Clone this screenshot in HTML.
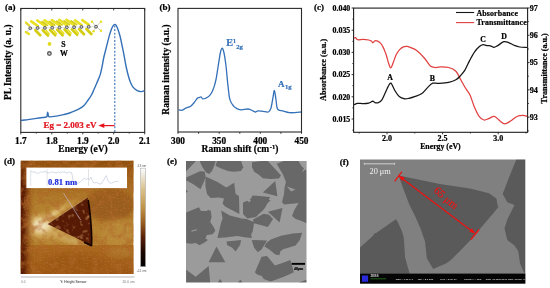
<!DOCTYPE html>
<html><head><meta charset="utf-8"><title>WS2 characterization</title>
<style>html,body{margin:0;padding:0;background:#fff;} svg{display:block;}</style>
</head><body>
<svg width="550" height="288" viewBox="0 0 550 288">
<rect width="550" height="288" fill="#ffffff"/>
<text x="5" y="9.8" font-family="Liberation Serif, serif" font-weight="bold" font-size="9" stroke="#000" stroke-width="0.22">(a)</text>
<rect x="20.8" y="8.45" width="123.89999999999999" height="123.95" fill="none" stroke="#2a2a2a" stroke-width="1.1"/>
<line x1="20.8" y1="8.45" x2="20.8" y2="10.45" stroke="#2a2a2a" stroke-width="0.9"/>
<line x1="20.8" y1="132.4" x2="20.8" y2="134.4" stroke="#2a2a2a" stroke-width="0.9"/>
<line x1="36.3" y1="8.45" x2="36.3" y2="9.649999999999999" stroke="#2a2a2a" stroke-width="0.9"/>
<line x1="36.3" y1="132.4" x2="36.3" y2="133.6" stroke="#2a2a2a" stroke-width="0.9"/>
<line x1="51.8" y1="8.45" x2="51.8" y2="10.45" stroke="#2a2a2a" stroke-width="0.9"/>
<line x1="51.8" y1="132.4" x2="51.8" y2="134.4" stroke="#2a2a2a" stroke-width="0.9"/>
<line x1="67.3" y1="8.45" x2="67.3" y2="9.649999999999999" stroke="#2a2a2a" stroke-width="0.9"/>
<line x1="67.3" y1="132.4" x2="67.3" y2="133.6" stroke="#2a2a2a" stroke-width="0.9"/>
<line x1="82.8" y1="8.45" x2="82.8" y2="10.45" stroke="#2a2a2a" stroke-width="0.9"/>
<line x1="82.8" y1="132.4" x2="82.8" y2="134.4" stroke="#2a2a2a" stroke-width="0.9"/>
<line x1="98.2" y1="8.45" x2="98.2" y2="9.649999999999999" stroke="#2a2a2a" stroke-width="0.9"/>
<line x1="98.2" y1="132.4" x2="98.2" y2="133.6" stroke="#2a2a2a" stroke-width="0.9"/>
<line x1="113.7" y1="8.45" x2="113.7" y2="10.45" stroke="#2a2a2a" stroke-width="0.9"/>
<line x1="113.7" y1="132.4" x2="113.7" y2="134.4" stroke="#2a2a2a" stroke-width="0.9"/>
<line x1="129.2" y1="8.45" x2="129.2" y2="9.649999999999999" stroke="#2a2a2a" stroke-width="0.9"/>
<line x1="129.2" y1="132.4" x2="129.2" y2="133.6" stroke="#2a2a2a" stroke-width="0.9"/>
<line x1="144.7" y1="8.45" x2="144.7" y2="10.45" stroke="#2a2a2a" stroke-width="0.9"/>
<line x1="144.7" y1="132.4" x2="144.7" y2="134.4" stroke="#2a2a2a" stroke-width="0.9"/>
<text x="20.8" y="143.6" font-family="Liberation Serif, serif" font-weight="bold" font-size="9.3" text-anchor="middle" stroke="#000" stroke-width="0.22">1.7</text>
<text x="51.8" y="143.6" font-family="Liberation Serif, serif" font-weight="bold" font-size="9.3" text-anchor="middle" stroke="#000" stroke-width="0.22">1.8</text>
<text x="82.8" y="143.6" font-family="Liberation Serif, serif" font-weight="bold" font-size="9.3" text-anchor="middle" stroke="#000" stroke-width="0.22">1.9</text>
<text x="113.7" y="143.6" font-family="Liberation Serif, serif" font-weight="bold" font-size="9.3" text-anchor="middle" stroke="#000" stroke-width="0.22">2.0</text>
<text x="144.7" y="143.6" font-family="Liberation Serif, serif" font-weight="bold" font-size="9.3" text-anchor="middle" stroke="#000" stroke-width="0.22">2.1</text>
<text x="83" y="152" font-family="Liberation Serif, serif" font-weight="bold" font-size="9.5" text-anchor="middle" stroke="#000" stroke-width="0.22">Energy (eV)</text>
<text transform="translate(10.9,62.2) rotate(-90)" font-family="Liberation Serif, serif" font-weight="bold" font-size="9.5" text-anchor="middle" stroke="#000" stroke-width="0.22">PL Intensity (a. u.)</text>
<path d="M20.9,120.5 C22.1,120.3 25.7,119.9 28.0,119.6 C30.3,119.3 32.3,118.9 34.5,118.6 C36.7,118.3 39.0,118.0 41.0,117.7 C43.0,117.4 45.6,117.4 46.6,116.8 C47.6,116.2 47.1,114.8 47.3,114.0 C47.5,113.2 47.6,112.2 47.7,112.3 C47.9,112.4 48.0,113.8 48.2,114.5 C48.4,115.2 47.7,116.5 49.1,116.8 C50.5,117.1 54.0,116.5 56.4,116.1 C58.8,115.7 61.2,115.2 63.6,114.6 C66.0,114.0 68.5,113.4 70.9,112.5 C73.3,111.6 76.0,110.6 78.2,109.4 C80.4,108.2 82.3,107.1 84.0,105.4 C85.7,103.8 87.2,101.2 88.5,99.5 C89.8,97.8 90.6,96.7 91.5,95.0 C92.4,93.3 93.1,91.5 94.0,89.5 C94.9,87.5 95.7,85.7 96.7,83.2 C97.8,80.7 99.4,77.4 100.3,74.4 C101.2,71.5 101.7,68.5 102.3,65.5 C102.9,62.5 103.3,59.5 104.0,56.5 C104.7,53.5 105.6,50.4 106.4,47.2 C107.2,44.1 108.0,40.5 108.8,37.6 C109.6,34.7 110.5,31.8 111.2,29.8 C111.9,27.8 112.6,26.5 113.2,25.6 C113.8,24.7 114.2,24.4 114.7,24.4 C115.2,24.4 115.7,24.6 116.2,25.4 C116.7,26.2 117.2,27.2 117.8,29.0 C118.4,30.8 119.2,33.0 120.0,36.0 C120.8,39.0 121.6,43.5 122.4,47.2 C123.2,50.9 124.0,55.0 124.6,58.3 C125.2,61.6 125.6,64.2 126.2,67.0 C126.8,69.8 127.5,72.8 128.2,75.3 C128.9,77.8 129.5,80.0 130.3,82.0 C131.1,84.0 131.8,85.7 133.0,87.1 C134.2,88.5 135.9,89.8 137.2,90.6 C138.5,91.3 139.6,91.5 140.7,91.6 C141.8,91.7 142.9,91.4 143.5,91.2 C144.1,91.0 144.2,90.4 144.4,90.2" fill="none" stroke="#3470b8" stroke-width="1.4" stroke-linejoin="round"/>
<line x1="114.8" y1="25.5" x2="114.8" y2="132" stroke="#3470b8" stroke-width="1.1" stroke-dasharray="2,1.6"/>
<line x1="103" y1="125.6" x2="114.6" y2="125.6" stroke="#e8141c" stroke-width="1.2"/>
<polygon points="98.3,125.6 104.3,123.2 104.3,128" fill="#e8141c"/>
<text x="43.4" y="128" font-family="Liberation Serif, serif" font-weight="bold" font-size="9" fill="#e0141c" stroke="#e0141c" stroke-width="0.22">Eg = 2.003 eV</text>
<g><line x1="25.9" y1="22.6" x2="29.1" y2="25.4" stroke="#e8e020" stroke-width="2.4" stroke-linecap="round"/><line x1="25.9" y1="32.0" x2="28.9" y2="34.0" stroke="#e8e020" stroke-width="2.4" stroke-linecap="round"/><line x1="26.1" y1="23.0" x2="30.3" y2="28.2" stroke="#b0b0a0" stroke-width="0.6"/><line x1="26.1" y1="32.4" x2="30.3" y2="28.2" stroke="#b0b0a0" stroke-width="0.6"/><line x1="31.2" y1="21.4" x2="37.8" y2="26.0" stroke="#e8e020" stroke-width="2.7" stroke-linecap="round"/><line x1="35.4" y1="30.2" x2="40.2" y2="35.2" stroke="#d4cc10" stroke-width="2.7" stroke-linecap="round"/><line x1="37.3" y1="20.5" x2="45.1" y2="25.9" stroke="#e8e020" stroke-width="2.7" stroke-linecap="round"/><line x1="42.7" y1="30.1" x2="48.0" y2="35.6" stroke="#d4cc10" stroke-width="2.7" stroke-linecap="round"/><line x1="42.1" y1="21.5" x2="47.5" y2="25.3" stroke="#d4cc10" stroke-width="1.6" stroke-linecap="round"/><line x1="45.9" y1="30.1" x2="49.3" y2="33.9" stroke="#e8e020" stroke-width="1.5" stroke-linecap="round"/><line x1="44.6" y1="20.3" x2="52.4" y2="25.7" stroke="#e8e020" stroke-width="2.7" stroke-linecap="round"/><line x1="50.0" y1="29.9" x2="55.3" y2="35.4" stroke="#d4cc10" stroke-width="2.7" stroke-linecap="round"/><line x1="49.4" y1="21.3" x2="54.8" y2="25.1" stroke="#d4cc10" stroke-width="1.6" stroke-linecap="round"/><line x1="53.2" y1="29.9" x2="56.6" y2="33.7" stroke="#e8e020" stroke-width="1.5" stroke-linecap="round"/><line x1="51.9" y1="20.1" x2="59.7" y2="25.5" stroke="#e8e020" stroke-width="2.7" stroke-linecap="round"/><line x1="57.3" y1="29.7" x2="62.6" y2="35.2" stroke="#d4cc10" stroke-width="2.7" stroke-linecap="round"/><line x1="56.7" y1="21.1" x2="62.1" y2="24.9" stroke="#d4cc10" stroke-width="1.6" stroke-linecap="round"/><line x1="60.5" y1="29.7" x2="63.9" y2="33.5" stroke="#e8e020" stroke-width="1.5" stroke-linecap="round"/><line x1="59.2" y1="19.9" x2="67.0" y2="25.3" stroke="#e8e020" stroke-width="2.7" stroke-linecap="round"/><line x1="64.6" y1="29.5" x2="69.9" y2="35.0" stroke="#d4cc10" stroke-width="2.7" stroke-linecap="round"/><line x1="64.0" y1="20.9" x2="69.4" y2="24.7" stroke="#d4cc10" stroke-width="1.6" stroke-linecap="round"/><line x1="67.8" y1="29.5" x2="71.2" y2="33.3" stroke="#e8e020" stroke-width="1.5" stroke-linecap="round"/><line x1="66.5" y1="19.8" x2="74.3" y2="25.2" stroke="#e8e020" stroke-width="2.7" stroke-linecap="round"/><line x1="71.9" y1="29.4" x2="77.2" y2="34.9" stroke="#d4cc10" stroke-width="2.7" stroke-linecap="round"/><line x1="71.3" y1="20.8" x2="76.7" y2="24.6" stroke="#d4cc10" stroke-width="1.6" stroke-linecap="round"/><line x1="75.1" y1="29.4" x2="78.5" y2="33.2" stroke="#e8e020" stroke-width="1.5" stroke-linecap="round"/><line x1="75.0" y1="20.4" x2="81.6" y2="25.0" stroke="#e8e020" stroke-width="2.7" stroke-linecap="round"/><line x1="79.2" y1="29.2" x2="84.0" y2="34.2" stroke="#d4cc10" stroke-width="2.7" stroke-linecap="round"/><line x1="82.3" y1="20.2" x2="88.9" y2="24.8" stroke="#e8e020" stroke-width="2.7" stroke-linecap="round"/><line x1="86.5" y1="29.0" x2="91.3" y2="34.0" stroke="#d4cc10" stroke-width="2.7" stroke-linecap="round"/><line x1="96.0" y1="26.7" x2="92.0" y2="21.7" stroke="#b8b890" stroke-width="0.7"/><circle cx="92.0" cy="21.7" r="1.25" fill="#e8e020"/><line x1="96.0" y1="26.7" x2="101.0" y2="21.7" stroke="#b8b890" stroke-width="0.7"/><circle cx="101.0" cy="21.7" r="1.25" fill="#e8e020"/><line x1="96.0" y1="26.7" x2="93.5" y2="31.2" stroke="#b8b890" stroke-width="0.7"/><circle cx="93.5" cy="31.2" r="1.25" fill="#e8e020"/><line x1="96.0" y1="26.7" x2="101.0" y2="30.7" stroke="#b8b890" stroke-width="0.7"/><circle cx="101.0" cy="30.7" r="1.25" fill="#e8e020"/><line x1="30.3" y1="28.2" x2="37.6" y2="28.0" stroke="#b8b8c0" stroke-width="0.6" opacity="0.7"/><line x1="37.6" y1="28.0" x2="44.9" y2="27.9" stroke="#b8b8c0" stroke-width="0.6" opacity="0.7"/><line x1="44.9" y1="27.9" x2="52.2" y2="27.7" stroke="#b8b8c0" stroke-width="0.6" opacity="0.7"/><line x1="52.2" y1="27.7" x2="59.5" y2="27.5" stroke="#b8b8c0" stroke-width="0.6" opacity="0.7"/><line x1="59.5" y1="27.5" x2="66.8" y2="27.3" stroke="#b8b8c0" stroke-width="0.6" opacity="0.7"/><line x1="66.8" y1="27.3" x2="74.1" y2="27.2" stroke="#b8b8c0" stroke-width="0.6" opacity="0.7"/><line x1="74.1" y1="27.2" x2="81.4" y2="27.0" stroke="#b8b8c0" stroke-width="0.6" opacity="0.7"/><line x1="81.4" y1="27.0" x2="88.7" y2="26.8" stroke="#b8b8c0" stroke-width="0.6" opacity="0.7"/><line x1="88.7" y1="26.8" x2="96.0" y2="26.7" stroke="#b8b8c0" stroke-width="0.6" opacity="0.7"/><circle cx="30.3" cy="28.2" r="1.45" fill="#c8c8cc" stroke="#505056" stroke-width="0.9"/><circle cx="37.6" cy="28.0" r="1.45" fill="#c8c8cc" stroke="#505056" stroke-width="0.9"/><circle cx="44.9" cy="27.9" r="1.45" fill="#c8c8cc" stroke="#505056" stroke-width="0.9"/><circle cx="52.2" cy="27.7" r="1.45" fill="#c8c8cc" stroke="#505056" stroke-width="0.9"/><circle cx="59.5" cy="27.5" r="1.45" fill="#c8c8cc" stroke="#505056" stroke-width="0.9"/><circle cx="66.8" cy="27.3" r="1.45" fill="#c8c8cc" stroke="#505056" stroke-width="0.9"/><circle cx="74.1" cy="27.2" r="1.45" fill="#c8c8cc" stroke="#505056" stroke-width="0.9"/><circle cx="81.4" cy="27.0" r="1.45" fill="#c8c8cc" stroke="#505056" stroke-width="0.9"/><circle cx="88.7" cy="26.8" r="1.45" fill="#c8c8cc" stroke="#505056" stroke-width="0.9"/><circle cx="96.0" cy="26.7" r="1.45" fill="#c8c8cc" stroke="#505056" stroke-width="0.9"/></g>
<circle cx="49.5" cy="43.9" r="1.9" fill="#e2da1c"/>
<circle cx="49.4" cy="53.5" r="1.8" fill="#d8d8d8" stroke="#5e5e5e" stroke-width="1.35"/>
<text x="61.2" y="46.6" font-family="Liberation Serif, serif" font-weight="bold" font-size="7.8" stroke="#000" stroke-width="0.22">S</text>
<text x="60" y="56.2" font-family="Liberation Serif, serif" font-weight="bold" font-size="7.8" stroke="#000" stroke-width="0.22">W</text>
<text x="159.6" y="9.8" font-family="Liberation Serif, serif" font-weight="bold" font-size="9" stroke="#000" stroke-width="0.22">(b)</text>
<rect x="178.0" y="8.4" width="123.5" height="123.6" fill="none" stroke="#2a2a2a" stroke-width="1.1"/>
<line x1="178.0" y1="132.0" x2="178.0" y2="133.8" stroke="#2a2a2a" stroke-width="0.9"/>
<line x1="198.6" y1="132.0" x2="198.6" y2="133.8" stroke="#2a2a2a" stroke-width="0.9"/>
<line x1="219.2" y1="132.0" x2="219.2" y2="133.8" stroke="#2a2a2a" stroke-width="0.9"/>
<line x1="239.8" y1="132.0" x2="239.8" y2="133.8" stroke="#2a2a2a" stroke-width="0.9"/>
<line x1="260.3" y1="132.0" x2="260.3" y2="133.8" stroke="#2a2a2a" stroke-width="0.9"/>
<line x1="280.9" y1="132.0" x2="280.9" y2="133.8" stroke="#2a2a2a" stroke-width="0.9"/>
<line x1="301.5" y1="132.0" x2="301.5" y2="133.8" stroke="#2a2a2a" stroke-width="0.9"/>
<text x="178.0" y="143.6" font-family="Liberation Serif, serif" font-weight="bold" font-size="9.3" text-anchor="middle" stroke="#000" stroke-width="0.22">300</text>
<text x="219.2" y="143.6" font-family="Liberation Serif, serif" font-weight="bold" font-size="9.3" text-anchor="middle" stroke="#000" stroke-width="0.22">350</text>
<text x="260.3" y="143.6" font-family="Liberation Serif, serif" font-weight="bold" font-size="9.3" text-anchor="middle" stroke="#000" stroke-width="0.22">400</text>
<text x="301.5" y="143.6" font-family="Liberation Serif, serif" font-weight="bold" font-size="9.3" text-anchor="middle" stroke="#000" stroke-width="0.22">450</text>
<text x="240" y="152.3" font-family="Liberation Serif, serif" font-weight="bold" font-size="9.5" text-anchor="middle" stroke="#000" stroke-width="0.22">Raman shift (cm<tspan dx="0.6" dy="-3.8" font-size="6.5">-1</tspan><tspan dy="3.8">)</tspan></text>
<text transform="translate(168.9,69.5) rotate(-90)" font-family="Liberation Serif, serif" font-weight="bold" font-size="9.5" text-anchor="middle" stroke="#000" stroke-width="0.22">Raman intensity (a.u.)</text>
<path d="M178.4,109.8 C179.0,109.9 180.9,110.5 182.1,110.2 C183.3,109.9 184.3,108.9 185.7,108.2 C187.1,107.5 189.2,107.2 190.6,106.2 C192.0,105.2 193.1,103.8 194.2,102.5 C195.3,101.2 196.5,99.0 197.3,98.2 C198.1,97.4 198.5,97.8 199.1,97.6 C199.7,97.4 200.4,96.6 201.0,96.8 C201.6,97.0 202.0,98.7 202.8,98.9 C203.6,99.1 204.8,98.6 205.8,98.2 C206.8,97.8 207.8,97.4 208.8,96.4 C209.8,95.4 211.0,93.9 211.9,92.2 C212.8,90.5 213.6,88.3 214.3,86.1 C215.0,83.9 215.4,82.3 216.1,79.0 C216.8,75.7 217.5,70.3 218.2,66.0 C218.9,61.7 219.7,56.0 220.3,53.0 C220.9,50.0 221.4,48.5 222.0,48.3 C222.6,48.1 223.1,49.0 223.8,52.0 C224.5,55.0 225.3,60.2 226.0,66.0 C226.7,71.8 227.4,81.2 228.1,86.9 C228.8,92.6 229.0,96.7 230.0,99.9 C231.0,103.2 232.7,104.9 233.9,106.4 C235.2,107.9 236.2,108.2 237.5,108.8 C238.8,109.4 239.9,109.8 241.7,109.8 C243.5,109.8 246.3,108.8 248.2,109.0 C250.0,109.2 251.6,110.3 252.8,110.8 C254.0,111.3 254.5,112.0 255.4,112.0 C256.3,112.0 256.7,110.9 258.0,110.8 C259.3,110.7 261.3,111.1 263.0,111.3 C264.7,111.5 267.1,112.5 268.4,112.0 C269.7,111.5 270.2,110.3 271.0,108.0 C271.8,105.7 272.3,100.9 272.9,98.0 C273.5,95.1 273.9,90.3 274.4,90.5 C274.9,90.7 275.4,95.9 275.9,99.0 C276.4,102.1 276.5,107.2 277.6,109.2 C278.8,111.2 280.9,110.2 282.8,110.8 C284.8,111.4 287.3,112.3 289.3,112.6 C291.3,112.9 293.1,112.7 295.0,112.6 C296.9,112.5 300.0,112.1 301.0,112.0" fill="none" stroke="#3470b8" stroke-width="1.3" stroke-linejoin="round"/>
<text x="226.2" y="46.4" font-family="Liberation Serif, serif" font-weight="bold" font-size="10.2" fill="#3470b8" stroke="#3470b8" stroke-width="0.22">E</text>
<text x="233" y="42.8" font-family="Liberation Serif, serif" font-weight="bold" font-size="6" fill="#3470b8" stroke="#3470b8" stroke-width="0.22">1</text>
<text x="236.2" y="49" font-family="Liberation Serif, serif" font-weight="bold" font-size="6.6" fill="#3470b8" stroke="#3470b8" stroke-width="0.22">2g</text>
<text x="277.9" y="86.8" font-family="Liberation Serif, serif" font-weight="bold" font-size="9" fill="#3470b8" stroke="#3470b8" stroke-width="0.22">A</text>
<text x="285.0" y="89.4" font-family="Liberation Serif, serif" font-weight="bold" font-size="6.6" fill="#3470b8" stroke="#3470b8" stroke-width="0.22">1g</text>
<text x="314" y="9.9" font-family="Liberation Serif, serif" font-weight="bold" font-size="9" stroke="#000" stroke-width="0.22">(c)</text>
<rect x="353.6" y="8.1" width="174.0" height="124.20000000000002" fill="none" stroke="#1e1e1e" stroke-width="1.1"/>
<line x1="351.6" y1="8.0" x2="353.6" y2="8.0" stroke="#1e1e1e" stroke-width="0.9"/>
<line x1="352.40000000000003" y1="19.1" x2="353.6" y2="19.1" stroke="#1e1e1e" stroke-width="0.9"/>
<line x1="351.6" y1="30.2" x2="353.6" y2="30.2" stroke="#1e1e1e" stroke-width="0.9"/>
<line x1="352.40000000000003" y1="41.3" x2="353.6" y2="41.3" stroke="#1e1e1e" stroke-width="0.9"/>
<line x1="351.6" y1="52.4" x2="353.6" y2="52.4" stroke="#1e1e1e" stroke-width="0.9"/>
<line x1="352.40000000000003" y1="63.5" x2="353.6" y2="63.5" stroke="#1e1e1e" stroke-width="0.9"/>
<line x1="351.6" y1="74.6" x2="353.6" y2="74.6" stroke="#1e1e1e" stroke-width="0.9"/>
<line x1="352.40000000000003" y1="85.7" x2="353.6" y2="85.7" stroke="#1e1e1e" stroke-width="0.9"/>
<line x1="351.6" y1="96.8" x2="353.6" y2="96.8" stroke="#1e1e1e" stroke-width="0.9"/>
<line x1="352.40000000000003" y1="107.9" x2="353.6" y2="107.9" stroke="#1e1e1e" stroke-width="0.9"/>
<line x1="351.6" y1="119.0" x2="353.6" y2="119.0" stroke="#1e1e1e" stroke-width="0.9"/>
<line x1="352.40000000000003" y1="130.1" x2="353.6" y2="130.1" stroke="#1e1e1e" stroke-width="0.9"/>
<text x="350.3" y="10.8" font-family="Liberation Serif, serif" font-weight="bold" font-size="7.9" text-anchor="end" stroke="#000" stroke-width="0.22">0.040</text>
<text x="350.3" y="33.0" font-family="Liberation Serif, serif" font-weight="bold" font-size="7.9" text-anchor="end" stroke="#000" stroke-width="0.22">0.035</text>
<text x="350.3" y="55.2" font-family="Liberation Serif, serif" font-weight="bold" font-size="7.9" text-anchor="end" stroke="#000" stroke-width="0.22">0.030</text>
<text x="350.3" y="77.4" font-family="Liberation Serif, serif" font-weight="bold" font-size="7.9" text-anchor="end" stroke="#000" stroke-width="0.22">0.025</text>
<text x="350.3" y="99.6" font-family="Liberation Serif, serif" font-weight="bold" font-size="7.9" text-anchor="end" stroke="#000" stroke-width="0.22">0.020</text>
<text x="350.3" y="121.8" font-family="Liberation Serif, serif" font-weight="bold" font-size="7.9" text-anchor="end" stroke="#000" stroke-width="0.22">0.015</text>
<line x1="527.6" y1="8.0" x2="529.6" y2="8.0" stroke="#1e1e1e" stroke-width="0.9"/>
<line x1="527.6" y1="21.6" x2="528.8000000000001" y2="21.6" stroke="#1e1e1e" stroke-width="0.9"/>
<line x1="527.6" y1="35.3" x2="529.6" y2="35.3" stroke="#1e1e1e" stroke-width="0.9"/>
<line x1="527.6" y1="49.0" x2="528.8000000000001" y2="49.0" stroke="#1e1e1e" stroke-width="0.9"/>
<line x1="527.6" y1="62.6" x2="529.6" y2="62.6" stroke="#1e1e1e" stroke-width="0.9"/>
<line x1="527.6" y1="76.2" x2="528.8000000000001" y2="76.2" stroke="#1e1e1e" stroke-width="0.9"/>
<line x1="527.6" y1="89.9" x2="529.6" y2="89.9" stroke="#1e1e1e" stroke-width="0.9"/>
<line x1="527.6" y1="103.5" x2="528.8000000000001" y2="103.5" stroke="#1e1e1e" stroke-width="0.9"/>
<line x1="527.6" y1="117.2" x2="529.6" y2="117.2" stroke="#1e1e1e" stroke-width="0.9"/>
<line x1="527.6" y1="130.9" x2="528.8000000000001" y2="130.9" stroke="#1e1e1e" stroke-width="0.9"/>
<text x="529.8" y="10.8" font-family="Liberation Serif, serif" font-weight="bold" font-size="8.1" stroke="#000" stroke-width="0.22">97</text>
<text x="529.8" y="38.1" font-family="Liberation Serif, serif" font-weight="bold" font-size="8.1" stroke="#000" stroke-width="0.22">96</text>
<text x="529.8" y="65.4" font-family="Liberation Serif, serif" font-weight="bold" font-size="8.1" stroke="#000" stroke-width="0.22">95</text>
<text x="529.8" y="92.7" font-family="Liberation Serif, serif" font-weight="bold" font-size="8.1" stroke="#000" stroke-width="0.22">94</text>
<text x="529.8" y="120.0" font-family="Liberation Serif, serif" font-weight="bold" font-size="8.1" stroke="#000" stroke-width="0.22">93</text>
<line x1="359.2" y1="132.3" x2="359.2" y2="133.5" stroke="#1e1e1e" stroke-width="0.9"/>
<line x1="387.0" y1="132.3" x2="387.0" y2="134.3" stroke="#1e1e1e" stroke-width="0.9"/>
<line x1="414.8" y1="132.3" x2="414.8" y2="133.5" stroke="#1e1e1e" stroke-width="0.9"/>
<line x1="442.6" y1="132.3" x2="442.6" y2="134.3" stroke="#1e1e1e" stroke-width="0.9"/>
<line x1="470.4" y1="132.3" x2="470.4" y2="133.5" stroke="#1e1e1e" stroke-width="0.9"/>
<line x1="498.2" y1="132.3" x2="498.2" y2="134.3" stroke="#1e1e1e" stroke-width="0.9"/>
<line x1="526.0" y1="132.3" x2="526.0" y2="133.5" stroke="#1e1e1e" stroke-width="0.9"/>
<text x="387.0" y="141.3" font-family="Liberation Serif, serif" font-weight="bold" font-size="8" text-anchor="middle" stroke="#000" stroke-width="0.22">2.0</text>
<text x="442.6" y="141.3" font-family="Liberation Serif, serif" font-weight="bold" font-size="8" text-anchor="middle" stroke="#000" stroke-width="0.22">2.5</text>
<text x="498.2" y="141.3" font-family="Liberation Serif, serif" font-weight="bold" font-size="8" text-anchor="middle" stroke="#000" stroke-width="0.22">3.0</text>
<text x="440.4" y="149.3" font-family="Liberation Serif, serif" font-weight="bold" font-size="7.8" text-anchor="middle" stroke="#000" stroke-width="0.22">Energy (eV)</text>
<text transform="translate(326.4,69.9) rotate(-90)" font-family="Liberation Serif, serif" font-weight="bold" font-size="8.2" text-anchor="middle" stroke="#000" stroke-width="0.22">Absorbance (a.u.)</text>
<text transform="translate(546.8,68.3) rotate(-90)" font-family="Liberation Serif, serif" font-weight="bold" font-size="8.1" text-anchor="middle" stroke="#000" stroke-width="0.22">Transmittance (a.u.)</text>
<path d="M354.1,38.1 C354.3,38.0 354.9,37.3 355.5,37.6 C356.1,37.9 356.3,39.4 357.6,39.7 C358.9,40.0 361.2,39.4 363.1,39.4 C365.0,39.4 367.3,39.7 368.7,40.0 C370.1,40.3 370.7,40.6 371.4,41.1 C372.1,41.6 372.2,42.8 372.8,42.8 C373.4,42.8 374.1,41.1 374.9,40.8 C375.7,40.5 376.8,40.7 377.7,41.1 C378.6,41.5 379.6,42.2 380.5,43.2 C381.4,44.2 382.3,45.5 383.2,47.4 C384.2,49.2 385.1,51.8 386.0,54.3 C386.9,56.8 387.7,60.4 388.4,62.6 C389.1,64.8 389.7,66.8 390.2,67.5 C390.7,68.2 391.0,67.8 391.6,66.8 C392.2,65.8 392.9,63.3 393.7,61.2 C394.5,59.2 395.4,56.3 396.4,54.3 C397.4,52.3 398.7,50.6 399.9,49.4 C401.1,48.2 402.2,47.4 403.4,46.9 C404.6,46.4 405.9,46.3 406.9,46.4 C407.9,46.5 407.9,46.5 409.6,47.2 C411.3,47.9 414.6,48.9 417.0,50.7 C419.4,52.5 422.1,55.5 424.3,58.0 C426.5,60.5 428.6,64.4 430.4,66.0 C432.2,67.6 433.8,67.3 435.2,67.5 C436.6,67.7 436.7,67.0 438.9,67.0 C441.1,67.0 445.8,66.8 448.6,67.5 C451.4,68.2 453.9,69.2 455.9,71.3 C457.9,73.3 459.2,77.0 460.8,79.8 C462.4,82.6 464.1,85.8 465.6,88.3 C467.1,90.8 468.6,91.9 470.0,95.0 C471.4,98.1 472.8,103.2 474.3,106.7 C475.8,110.2 477.5,114.1 479.1,116.3 C480.7,118.5 482.3,119.6 483.9,120.0 C485.5,120.4 486.9,119.3 488.6,118.7 C490.4,118.1 492.5,115.9 494.4,116.3 C496.3,116.7 498.3,119.7 500.0,121.0 C501.7,122.3 503.0,123.9 504.8,123.9 C506.6,123.9 508.5,122.3 510.6,121.0 C512.7,119.7 515.2,117.2 517.3,116.3 C519.4,115.3 521.4,115.3 523.0,115.3 C524.6,115.3 526.5,116.1 527.2,116.3" fill="none" stroke="#e0403f" stroke-width="1.25" stroke-linejoin="round"/>
<path d="M354.1,104.7 C354.7,104.5 356.1,103.5 357.6,103.3 C359.1,103.1 361.2,103.6 363.1,103.6 C365.0,103.6 367.1,103.5 368.7,103.1 C370.3,102.7 371.8,101.3 372.8,101.2 C373.8,101.2 374.0,102.4 374.9,102.6 C375.8,102.8 377.2,103.0 378.4,102.6 C379.6,102.1 380.9,101.3 381.9,99.9 C382.9,98.5 383.7,96.3 384.6,94.3 C385.5,92.3 386.6,89.7 387.4,88.0 C388.2,86.3 388.9,84.8 389.5,84.0 C390.1,83.2 390.4,83.0 390.9,83.2 C391.4,83.4 391.6,84.0 392.3,85.3 C393.0,86.6 393.9,88.9 395.0,90.8 C396.1,92.7 397.6,95.1 399.2,96.4 C400.8,97.7 403.2,98.4 404.8,98.8 C406.4,99.1 407.3,98.7 408.9,98.3 C410.5,97.9 412.4,97.4 414.6,96.6 C416.8,95.8 419.7,95.1 421.9,93.5 C424.1,91.9 426.2,88.8 428.0,87.1 C429.8,85.4 431.0,83.8 432.8,83.2 C434.6,82.6 436.3,83.6 438.9,83.4 C441.5,83.2 445.8,82.9 448.6,82.3 C451.4,81.7 454.0,80.8 455.9,79.8 C457.8,78.8 458.5,77.8 460.0,76.2 C461.5,74.6 463.3,72.7 464.9,70.1 C466.5,67.5 468.1,63.4 469.7,60.4 C471.3,57.4 473.0,54.2 474.6,51.9 C476.2,49.6 478.0,47.7 479.4,46.5 C480.8,45.3 481.9,44.8 483.1,44.6 C484.3,44.5 485.5,45.4 486.7,45.6 C487.9,45.8 489.2,45.5 490.4,45.8 C491.6,46.1 492.8,47.3 494.0,47.3 C495.2,47.3 496.1,46.5 497.7,45.6 C499.3,44.7 502.0,42.2 503.8,41.7 C505.6,41.2 507.0,42.1 508.6,42.6 C510.2,43.1 511.7,44.3 513.5,45.0 C515.3,45.7 517.3,46.6 519.6,47.0 C521.9,47.4 525.9,47.4 527.2,47.5" fill="none" stroke="#151515" stroke-width="1.25" stroke-linejoin="round"/>
<line x1="456" y1="12.5" x2="474.2" y2="12.5" stroke="#151515" stroke-width="1.1"/>
<line x1="456" y1="22.6" x2="474.2" y2="22.6" stroke="#e0403f" stroke-width="1.1"/>
<text x="476.5" y="15.6" font-family="Liberation Serif, serif" font-weight="bold" font-size="7.9" letter-spacing="0.12" stroke="#000" stroke-width="0.22">Absorbance</text>
<text x="476.5" y="25.2" font-family="Liberation Serif, serif" font-weight="bold" font-size="7.9" letter-spacing="0.1" stroke="#000" stroke-width="0.22">Transmittance</text>
<text x="387.3" y="79.8" font-family="Liberation Serif, serif" font-weight="bold" font-size="7.8" stroke="#000" stroke-width="0.22">A</text>
<text x="429.7" y="81" font-family="Liberation Serif, serif" font-weight="bold" font-size="7.8" stroke="#000" stroke-width="0.22">B</text>
<text x="480.2" y="41.6" font-family="Liberation Serif, serif" font-weight="bold" font-size="7.8" stroke="#000" stroke-width="0.22">C</text>
<text x="501.3" y="38.6" font-family="Liberation Serif, serif" font-weight="bold" font-size="7.8" stroke="#000" stroke-width="0.22">D</text>
<text x="3.9" y="163.6" font-family="Liberation Serif, serif" font-weight="bold" font-size="9" stroke="#000" stroke-width="0.22">(d)</text>
<defs>
<linearGradient id="dleft" x1="0" y1="0" x2="1" y2="0">
 <stop offset="0" stop-color="#460e00" stop-opacity="1"/>
 <stop offset="0.3" stop-color="#622004" stop-opacity="0.95"/>
 <stop offset="0.6" stop-color="#8a4410" stop-opacity="0.6"/>
 <stop offset="1" stop-color="#b07a26" stop-opacity="0"/>
</linearGradient>
<radialGradient id="dglow" cx="0.5" cy="0.5" r="0.5">
 <stop offset="0" stop-color="#f6ecc4" stop-opacity="1"/>
 <stop offset="0.45" stop-color="#e6cc88" stop-opacity="0.75"/>
 <stop offset="1" stop-color="#d0a454" stop-opacity="0"/>
</radialGradient>
<radialGradient id="dglow2" cx="0.5" cy="0.5" r="0.5">
 <stop offset="0" stop-color="#d8b464" stop-opacity="0.8"/>
 <stop offset="1" stop-color="#c89a48" stop-opacity="0"/>
</radialGradient>
<linearGradient id="dtop" x1="0" y1="0" x2="0" y2="1">
 <stop offset="0" stop-color="#8e4c0c" stop-opacity="1"/>
 <stop offset="0.3" stop-color="#985410" stop-opacity="0.85"/>
 <stop offset="0.65" stop-color="#9c5a14" stop-opacity="0.45"/>
 <stop offset="1" stop-color="#9c5a14" stop-opacity="0"/>
</linearGradient>
<linearGradient id="dlow" x1="0" y1="0" x2="0" y2="1">
 <stop offset="0" stop-color="#a9671c"/>
 <stop offset="1" stop-color="#9c5614"/>
</linearGradient>
<linearGradient id="cbar" x1="0" y1="0" x2="0" y2="1">
 <stop offset="0" stop-color="#ffffff"/><stop offset="0.05" stop-color="#f2eee6"/><stop offset="0.22" stop-color="#d8c08a"/>
 <stop offset="0.4" stop-color="#c09448"/><stop offset="0.55" stop-color="#9a5e20"/><stop offset="0.7" stop-color="#5a2008"/>
 <stop offset="0.86" stop-color="#1a0600"/><stop offset="1" stop-color="#000000"/>
</linearGradient>
<filter id="noise" x="0" y="0" width="100%" height="100%">
 <feTurbulence type="fractalNoise" baseFrequency="0.13" numOctaves="3" seed="7"/>
 <feColorMatrix values="0 0 0 0 0.42  0 0 0 0 0.13  0 0 0 0 0.02  3.2 0 0 0 -1.35"/>
</filter>
<filter id="noise2" x="0" y="0" width="100%" height="100%">
 <feTurbulence type="fractalNoise" baseFrequency="0.7" numOctaves="1" seed="11"/>
 <feColorMatrix values="0 0 0 0 0.86  0 0 0 0 0.66  0 0 0 0 0.30  3.0 0 0 0 -1.45"/>
</filter>
<filter id="mottle" x="0" y="0" width="100%" height="100%">
 <feTurbulence type="fractalNoise" baseFrequency="0.2" numOctaves="2" seed="5"/>
 <feColorMatrix values="0 0 0 0 0.52  0 0 0 0 0.24  0 0 0 0 0.08  0 0 0 2.6 -1.42"/>
 <feGaussianBlur stdDeviation="0.4"/>
</filter>
<linearGradient id="lmaskg" x1="0" y1="0" x2="0" y2="1">
 <stop offset="0" stop-color="#fff" stop-opacity="0.35"/><stop offset="0.25" stop-color="#fff" stop-opacity="1"/><stop offset="1" stop-color="#fff" stop-opacity="0.85"/>
</linearGradient>
<mask id="lmask" maskUnits="userSpaceOnUse" x="20" y="160" width="20" height="115"><rect x="20" y="160" width="20" height="115" fill="url(#lmaskg)"/></mask>
<filter id="blur06"><feGaussianBlur stdDeviation="0.6"/></filter>
<filter id="blur2"><feGaussianBlur stdDeviation="2"/></filter>
</defs>
<clipPath id="dclip"><rect x="20.6" y="160.6" width="113.0" height="113.4"/></clipPath>
<g clip-path="url(#dclip)">
<rect x="20.6" y="160.6" width="113.0" height="113.4" fill="#b3812e"/>
<ellipse cx="110" cy="205" rx="25" ry="17" fill="#8e4e12" opacity="0.7" filter="url(#blur2)"/>
<ellipse cx="0" cy="0" rx="20" ry="5" transform="translate(66,237) rotate(27)" fill="#dcc07c" opacity="0.55" filter="url(#blur2)"/>
<ellipse cx="118" cy="232" rx="18" ry="14" fill="#c09040" opacity="0.5" filter="url(#blur2)"/>
<ellipse cx="0" cy="0" rx="26" ry="8" transform="translate(60,210) rotate(-33)" fill="url(#dglow2)"/>
<ellipse cx="39" cy="226" rx="20" ry="16" fill="url(#dglow)"/>
<ellipse cx="42" cy="226" rx="9" ry="7" fill="#f8f0d8" opacity="0.55" filter="url(#blur2)"/>
<ellipse cx="0" cy="0" rx="16" ry="5" transform="translate(52,215) rotate(-33)" fill="url(#dglow)" opacity="0.6"/>
<ellipse cx="52" cy="236" rx="22" ry="10" fill="url(#dglow2)" opacity="0.7"/>
<rect x="20.6" y="245" width="113.0" height="29.0" fill="url(#dlow)"/>
<ellipse cx="75" cy="262" rx="30" ry="9" fill="#94500f" opacity="0.45" filter="url(#blur2)"/>
<ellipse cx="120" cy="252" rx="14" ry="6" fill="#b88838" opacity="0.5" filter="url(#blur2)"/>
<rect x="20.6" y="160.6" width="113.0" height="46" fill="url(#dtop)"/>
<rect x="20.6" y="160.6" width="15" height="113.4" fill="url(#dleft)" mask="url(#lmask)"/>
<rect x="20.6" y="180" width="4" height="94.0" fill="#5a1a02" opacity="0.55"/>
<rect x="20.6" y="160.6" width="113.0" height="113.4" filter="url(#noise)" opacity="0.6"/>
<rect x="20.6" y="160.6" width="113.0" height="113.4" filter="url(#noise2)" opacity="0.15"/>
<polygon points="87.6,197.3 89.3,207 90.5,218 91.3,229 91.7,238 91.5,245.6 47.6,224" fill="#561a05"/>
<clipPath id="triclip"><polygon points="87.6,197.3 89.3,207 90.5,218 91.3,229 91.7,238 91.5,245.6 47.6,224"/></clipPath>
<rect x="45" y="195" width="50" height="52" clip-path="url(#triclip)" filter="url(#mottle)"/>
<polyline points="88.1,200 89.4,208 90.5,218 91.3,229 91.7,238 91.5,245.6 84,242.3" fill="none" stroke="#160400" stroke-width="1.7" stroke-linejoin="round"/>
<line x1="47.6" y1="224" x2="87.6" y2="197.3" stroke="#f0d8a0" stroke-width="0.6" opacity="0.6"/>
<line x1="63.5" y1="193.2" x2="80.7" y2="220" stroke="#c8c0e0" stroke-width="0.7" opacity="0.85"/>
</g>
<rect x="26.4" y="167.6" width="100.6" height="20.5" fill="#ffffff"/>
<path d="M30.7,170 v16 M47.1,169 v17 M88.5,169 v17" stroke="#c8c8c8" stroke-width="0.5" fill="none"/>
<polyline points="30.8,171.8 31.9,171.6 33.0,172.1 34.1,172.3 35.2,172.1 36.3,172.7 37.4,173.7 38.5,172.8 39.6,172.8 40.7,171.8 41.8,172.4 42.9,171.9 44.0,171.7 45.1,171.6 46.2,171.8 47.3,173.1 48.4,172.9 49.5,172.9 50.6,172.8 51.7,171.7 52.8,172.0 53.9,172.5 55.0,172.7 56.1,172.9 57.2,173.0 58.3,171.6 59.4,172.5 60.5,172.6 61.6,172.3 62.7,171.7 63.8,172.3 64.9,171.6 66.0,173.1 67.1,173.0 68.2,172.4 69.3,171.9 70.4,173.0 71.5,172.4 72.4,176.0 73.1,181.5 74.5,183.2 76.0,182.6 77.5,183.4 79.0,182.8 80.5,181.6 81.8,180.8 83.0,179.2 84.5,178.3 86.0,179.6 87.5,178.6 89.5,179.6 91.0,177.2 92.2,180.5 93.4,182.5 95.0,183.0 96.5,182.4 98.0,183.3 99.5,183.8 101.0,184.1 102.5,182.0 104.0,179.5 105.2,177.0 106.3,175.6 107.3,178.5 108.4,181.6 110.0,182.8 111.5,183.2 113.0,182.4 115.0,181.8 116.8,181.2 118.4,181.6" fill="none" stroke="#b4bcd6" stroke-width="0.55"/>
<text x="48" y="185.2" font-family="Liberation Serif, serif" font-weight="bold" font-size="8.6" fill="#2233dd" stroke="#2233dd" stroke-width="0.22">0.81 nm</text>
<rect x="140.6" y="168.2" width="5" height="98.5" fill="url(#cbar)" stroke="#b0b0b0" stroke-width="0.6"/>
<text x="137.5" y="167" font-family="Liberation Sans, sans-serif" font-size="2.8" fill="#555">4.3 nm</text>
<text x="136.8" y="272.3" font-family="Liberation Sans, sans-serif" font-size="2.8" fill="#555">-0.1 nm</text>
<line x1="20.9" y1="277" x2="134.4" y2="277" stroke="#888" stroke-width="0.6"/>
<text x="21" y="282.7" font-family="Liberation Sans, sans-serif" font-size="3.2" fill="#777">0.0</text>
<text x="73.5" y="282.7" font-family="Liberation Sans, sans-serif" font-size="3.3" font-weight="bold" fill="#555" text-anchor="middle">Y: Height Sensor</text>
<text x="134.4" y="282.7" font-family="Liberation Sans, sans-serif" font-size="3.3" fill="#777" text-anchor="end">20.0 um</text>
<text x="167" y="164.2" font-family="Liberation Serif, serif" font-weight="bold" font-size="9" stroke="#000" stroke-width="0.22">(e)</text>
<clipPath id="eclip"><rect x="186.0" y="161.0" width="120.5" height="121.5"/></clipPath>
<rect x="186.0" y="161.0" width="120.5" height="121.5" fill="#9b9b9b"/>
<g clip-path="url(#eclip)" fill="#686868"><polygon points="186.0,161.0 196.0,161.0 186.0,171.5"/><polygon points="199.6,161.0 215.6,161.0 214.2,165.8 212.0,170.9 209.1,173.9 206.1,172.4 202.5,167.3"/><polygon points="217.1,161.0 241.0,161.0 243.2,167.3 241.0,170.9 233.7,171.7 227.9,170.9 220.0,168.0 215.6,165.8"/><polygon points="186.3,177.5 200.0,171.2 204.7,171.4 205.6,177.2 203.6,182.6 200.5,189.2 193.0,184.0 186.3,180.5"/><polygon points="205.4,176.5 210.0,178.6 217.5,182.0 226.3,187.6 234.2,182.8 235.6,193.9 239.0,196.0 239.4,214.0 225.5,206.8 222.6,203.8 224.0,198.5 218.9,197.4 210.6,198.0 207.0,193.9 205.4,186.0"/><polygon points="186.0,189.9 187.9,191.4 186.0,192.8"/><polygon points="252.0,162.2 261.5,161.0 267.8,161.0 281.0,175.5 278.8,178.4 270.8,179.1 262.9,178.2 258.5,174.6 254.2,171.7 252.0,167.3"/><polygon points="276.6,163.8 283.9,161.0 298.5,161.0 301.5,166.0 304.4,168.8 306.5,170.0 306.5,223.3 301.5,221.1 295.6,219.0 292.0,216.0 294.2,210.2 298.5,202.9 294.2,203.6 284.0,204.4 282.0,202.0 283.9,194.5 284.6,187.2 286.0,182.0 283.1,174.8"/><polygon points="275.2,180.9 262.8,192.6 277.4,196.2"/><polygon points="243.0,202.4 250.3,199.5 252.6,195.5 270.1,197.0 264.2,210.1 259.9,213.0 256.0,217.0 247.4,218.4 243.0,214.0"/><polygon points="267.9,211.7 282.5,208.0 279.6,222.6"/><polygon points="253.0,219.5 265.0,213.1 269.4,215.3 273.0,219.0 267.9,227.0 254.0,223.3"/><polygon points="265.0,200.0 270.8,200.0 265.0,205.8"/><polygon points="221.1,210.4 229.9,215.5 241.5,218.4 246.6,219.1 251.8,221.3 254.2,221.9 252.7,231.4 251.2,234.3 251.8,238.0 245.9,237.4 237.2,235.9 225.5,237.4 217.5,238.1 218.2,234.5 219.7,228.6 221.1,222.8 222.6,218.4"/><polygon points="186.2,212.4 198.9,207.3 201.0,211.0 206.9,211.0 208.0,209.7 210.9,211.1 211.6,217.0 210.2,222.0 213.8,227.2 215.3,230.8 212.7,234.3 206.9,235.0 205.4,238.6 207.9,240.0 204.9,242.3 199.5,245.3 195.7,243.0 191.1,243.8 186.2,243.0"/><polygon points="266.0,243.3 270.8,239.4 281.0,235.7 292.7,233.5 302.2,232.8 299.8,240.0 295.5,245.5 289.0,247.6 283.0,249.2 280.3,251.5 279.4,255.3 275.4,254.6 269.3,249.4 264.5,246.5"/><polygon points="251.7,240.0 267.0,240.5 261.7,249.2 257.8,252.2 254.0,247.6"/><polygon points="226.5,241.5 241.0,240.0 240.3,244.6 235.7,251.5 231.9,247.6 227.3,245.3"/><polygon points="216.5,246.5 225.3,262.2 208.6,262.2"/><polygon points="186.2,269.8 195.7,276.7 208.7,266.0 210.2,282.5 186.2,282.5"/><polygon points="217.8,282.5 220.1,279.0 222.4,282.5"/><polygon points="238.0,282.5 240.3,279.7 242.6,282.5"/><polygon points="254.9,272.2 261.6,256.7 267.0,256.0 274.9,265.6 280.3,263.7 290.4,260.0 291.7,264.4 293.8,272.2 287.9,275.1 283.8,276.7 275.7,279.7 270.4,281.5 263.8,279.0 261.7,275.9 257.1,274.4"/><polygon points="298.6,282.5 306.5,279.7 306.5,282.5"/></g>
<g clip-path="url(#eclip)" fill="#9b9b9b"><polygon points="298.5,161.0 306.5,161.0 306.5,168.5 302.0,172.6 304.0,168.0"/><polygon points="286.8,186.4 295.5,189.4 291.2,191.5"/><polygon points="191.5,230.6 197.0,229.2 197.0,230.3 191.5,231.7"/><polygon points="267.0,205.8 260.5,213.1 267.0,214.4"/><polygon points="246.9,200.0 251.2,200.0 249.0,202.6"/></g>
<rect x="291.7" y="262.9" width="13.3" height="1.9" fill="#000"/>
<text x="298.6" y="269.8" font-family="Liberation Serif, serif" font-size="3.8" font-weight="bold" fill="#111" text-anchor="middle" stroke="#111" stroke-width="0.22">40μm</text>
<text x="339.7" y="165.2" font-family="Liberation Serif, serif" font-weight="bold" font-size="9" stroke="#000" stroke-width="0.22">(f)</text>
<clipPath id="fclip"><rect x="360.0" y="159.5" width="165.3" height="124.0"/></clipPath>
<rect x="360.0" y="159.5" width="165.29999999999995" height="124.0" fill="#808080"/>
<g clip-path="url(#fclip)" fill="#5a5a5a"><polygon points="398.6,175.6 440.0,184.0 470.0,188.5 489.0,193.2 496.4,198.6 498.0,207.0 500.0,205.0 492.7,214.1 481.8,226.8 469.1,241.4 460.0,251.0 450.9,260.0 446.0,263.6 440.0,266.0 433.2,269.0 426.8,258.2 425.0,241.4 420.5,228.6 415.0,215.9 409.5,205.0 403.0,188.0"/><polygon points="360.0,247.5 373.0,235.8 374.5,233.6 376.5,232.8 395.9,219.3 397.6,221.6 399.3,225.5 401.0,229.0 402.3,232.3 403.6,237.0 404.1,241.4 405.0,257.0 408.0,268.0 409.8,273.8 360.0,273.8"/><polygon points="516.4,159.5 525.3,159.5 525.3,273.8 523.6,271.8 520.0,263.6 518.2,251.0 514.5,245.5 507.3,240.0 504.5,228.6 507.3,219.5 512.0,210.0 514.5,205.0 507.3,202.3 502.7,194.0 508.0,180.0 512.0,170.0"/></g>
<rect x="360" y="273.6" width="165.3" height="10" fill="#050505"/>
<rect x="361.9" y="275.5" width="6.2" height="6.3" fill="#2a2ad8"/>
<line x1="370.5" y1="278.8" x2="386" y2="278.8" stroke="#2a8a2a" stroke-width="0.7"/>
<text x="370.5" y="277.4" font-family="Liberation Sans, sans-serif" font-size="2.8" font-weight="bold" fill="#ddd">ZEISS</text>
<text x="404.5" y="279.9" font-family="Liberation Sans, sans-serif" font-size="2.5" font-weight="bold" fill="#d0d0d0" text-anchor="middle">Mag = 1.00 K X</text>
<text x="425.5" y="279.9" font-family="Liberation Sans, sans-serif" font-size="2.5" font-weight="bold" fill="#d0d0d0" text-anchor="middle">WD = 8.6 mm</text>
<text x="448.5" y="279.9" font-family="Liberation Sans, sans-serif" font-size="2.5" font-weight="bold" fill="#d0d0d0" text-anchor="middle">EHT = 5.00 kV</text>
<text x="472.7" y="279.9" font-family="Liberation Sans, sans-serif" font-size="2.5" font-weight="bold" fill="#d0d0d0" text-anchor="middle">Signal A = SE2</text>
<text x="496.4" y="279.9" font-family="Liberation Sans, sans-serif" font-size="2.5" font-weight="bold" fill="#d0d0d0" text-anchor="middle">Date :19 May 2017</text>
<text x="516.3" y="279.9" font-family="Liberation Sans, sans-serif" font-size="2.5" font-weight="bold" fill="#d0d0d0" text-anchor="middle">Time :15:23:47</text>
<line x1="364.3" y1="163.8" x2="394.6" y2="163.8" stroke="#d8d8d8" stroke-width="0.9"/>
<line x1="364.3" y1="162.6" x2="364.3" y2="165" stroke="#d8d8d8" stroke-width="0.7"/>
<line x1="394.6" y1="162.6" x2="394.6" y2="165" stroke="#d8d8d8" stroke-width="0.7"/>
<text x="369.5" y="174" font-family="Liberation Serif, serif" font-size="8.3" fill="#f2f2f2">20 μm</text>
<line x1="394.6" y1="181.4" x2="401.9" y2="171.7" stroke="#ee1111" stroke-width="1.2"/>
<line x1="470.9" y1="239.5" x2="479.1" y2="229.5" stroke="#ee1111" stroke-width="1.2"/>
<line x1="400.5" y1="177.2" x2="473.8" y2="232.6" stroke="#ee1111" stroke-width="1.2"/>
<polygon points="398.3,175.6 404.8,177.6 402.1,181.1" fill="#ee1111"/>
<polygon points="475.6,233.8 469.2,231.6 471.9,228.2" fill="#ee1111"/>
<text transform="translate(433.2,191.4) rotate(41)" font-family="Liberation Serif, serif" font-size="11" fill="#ee1414" stroke="#ee1414" stroke-width="0.15">65 μm</text>
</svg>
</body></html>
